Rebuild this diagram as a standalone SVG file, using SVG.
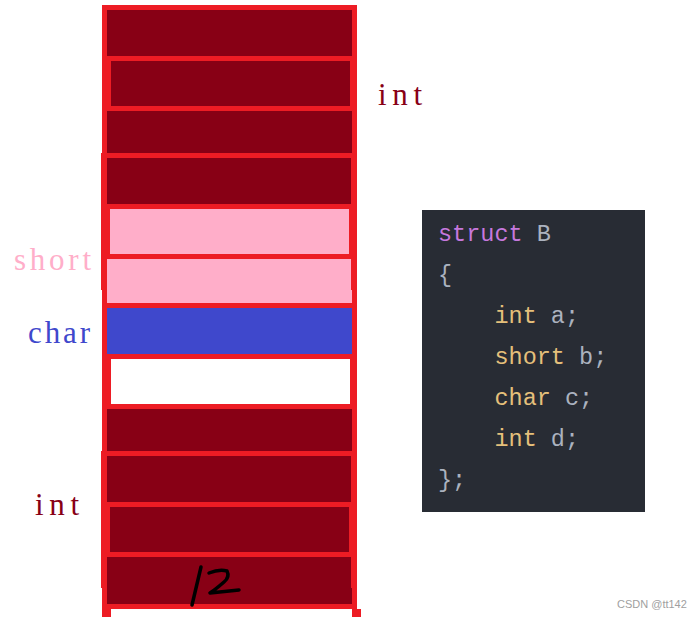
<svg xmlns="http://www.w3.org/2000/svg" width="700" height="617" viewBox="0 0 700 617">
<style>
.frame{fill:#ED1C24}
.int{fill:#880015}
.sh{fill:#FFAEC9}
.ch{fill:#3F48CC}
.pad{fill:#FFFFFF}
.lbl{font-family:"Liberation Serif","DejaVu Serif",serif;font-size:31px}
.code{font-family:"Liberation Mono","DejaVu Sans Mono",monospace;font-size:23.5px;fill:#ABB2BF}
.kw{fill:#C678DD}
.ty{fill:#E5C07B}
</style>
<rect width="700" height="617" fill="#FFFFFF"/>
<g id="frame">
<rect class="frame" x="102" y="5" width="255" height="604"/>
<rect class="frame" x="101" y="153" width="6" height="137"/>
<rect class="frame" x="101" y="451" width="6" height="137"/>
<rect class="frame" x="102" y="609" width="9" height="8"/>
<rect class="frame" x="352" y="609" width="9" height="8"/>
</g>
<g id="cell-1"><rect class="int" x="107" y="10" width="245" height="46"/></g>
<g id="cell-2"><rect class="int" x="111" y="61" width="239" height="45"/></g>
<g id="cell-3"><rect class="int" x="107" y="111" width="245" height="42"/></g>
<g id="cell-4"><rect class="int" x="107" y="158" width="244" height="46"/></g>
<g id="cell-5"><rect class="sh" x="110" y="209" width="239" height="45"/></g>
<g id="cell-6"><rect class="sh" x="107" y="259" width="244" height="44"/><rect class="sh" x="107" y="290" width="245" height="13"/></g>
<g id="cell-7"><rect class="ch" x="107" y="308" width="245" height="46"/></g>
<g id="cell-8"><rect class="pad" x="111" y="359" width="239" height="45"/></g>
<g id="cell-9"><rect class="int" x="107" y="409" width="245" height="42"/></g>
<g id="cell-10"><rect class="int" x="107" y="456" width="244" height="46"/></g>
<g id="cell-11"><rect class="int" x="110" y="507" width="239" height="45"/></g>
<g id="cell-12"><rect class="int" x="107" y="557" width="244" height="47"/><rect class="int" x="107" y="588" width="245" height="16"/></g>
<g id="bottom-gap"><rect class="pad" x="111" y="609" width="241" height="8"/></g>
<g id="handwriting" fill="none" stroke="#000000" stroke-width="3.5" stroke-linecap="round" stroke-linejoin="round">
<path d="M201,567 L192,605"/>
<path d="M209,573 Q219,569 227,571 Q230,577 224,582 Q216,589 210,593 L239,590"/>
</g>
<g id="labels">
<text class="lbl" x="378" y="105" fill="#880015" textLength="44" lengthAdjust="spacing">int</text>
<text class="lbl" x="14" y="270" fill="#FFAEC9" textLength="77" lengthAdjust="spacing">short</text>
<text class="lbl" x="28" y="343" fill="#3F48CC" textLength="62" lengthAdjust="spacing">char</text>
<text class="lbl" x="35" y="515" fill="#880015" textLength="44" lengthAdjust="spacing">int</text>
</g>
<g id="code-box">
<rect x="422" y="210" width="223" height="302" fill="#282C34"/>
<text class="code" x="438" y="241"><tspan class="kw">struct</tspan> B</text>
<text class="code" x="438" y="282">{</text>
<text class="code" x="438" y="323" xml:space="preserve">    <tspan class="ty">int</tspan> a;</text>
<text class="code" x="438" y="364" xml:space="preserve">    <tspan class="ty">short</tspan> b;</text>
<text class="code" x="438" y="405" xml:space="preserve">    <tspan class="ty">char</tspan> c;</text>
<text class="code" x="438" y="446" xml:space="preserve">    <tspan class="ty">int</tspan> d;</text>
<text class="code" x="438" y="487">};</text>
</g>
<text x="617" y="608" font-family="'Liberation Sans','DejaVu Sans',sans-serif" font-size="11" fill="#A0A0A0">CSDN @tt142</text>
</svg>
